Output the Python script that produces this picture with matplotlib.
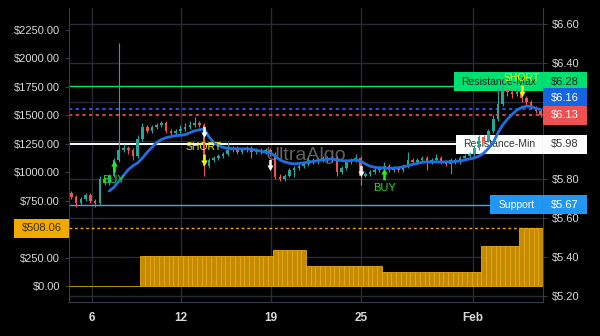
import matplotlib
matplotlib.use('Agg')
import matplotlib.pyplot as plt
from matplotlib.patches import Rectangle
from matplotlib.transforms import IdentityTransform
from matplotlib.path import Path

plt.rcParams['font.family'] = ['Liberation Sans', 'DejaVu Sans']

# ---------------- data ----------------
first_open = 5.73
closes = [5.71, 5.68, 5.70, 5.72, 5.69, 5.68, 5.80, 5.78, 5.82, 5.90,
          5.95, 5.96, 5.95, 5.92, 6.01, 6.07, 6.05, 6.07, 6.08, 6.09,
          6.05, 6.04, 6.05, 6.06, 6.07, 6.08, 6.09, 6.08, 5.87, 5.90,
          5.91, 5.92, 5.93, 5.95, 5.96, 5.94, 5.95, 5.96, 5.94, 5.95,
          5.94, 5.95, 5.93, 5.81, 5.80, 5.82, 5.85, 5.86, 5.87, 5.88,
          5.90, 5.89, 5.90, 5.91, 5.90, 5.91, 5.84, 5.86, 5.89, 5.90,
          5.91, 5.82, 5.83, 5.84, 5.85, 5.86, 5.87, 5.85, 5.86, 5.85,
          5.87, 5.90, 5.89, 5.90, 5.91, 5.89, 5.90, 5.91, 5.89, 5.88,
          5.90, 5.89, 5.91, 5.92, 5.93, 5.96, 6.02, 6.00, 6.05, 6.11,
          6.19, 6.26, 6.25, 6.24, 6.25, 6.22, 6.20, 6.17, 6.15, 6.13]
highs = [5.74, 5.72, 5.71, 5.73, 5.73, 5.70, 5.82, 5.81, 5.83, 5.91,
         6.50, 5.98, 5.97, 5.96, 6.03, 6.09, 6.08, 6.08, 6.09, 6.10,
         6.10, 6.06, 6.06, 6.08, 6.09, 6.10, 6.12, 6.10, 6.09, 5.91,
         5.92, 5.93, 5.94, 5.99, 5.97, 5.97, 5.96, 5.97, 5.97, 5.96,
         5.96, 5.96, 5.96, 5.94, 5.83, 5.83, 5.86, 5.87, 5.88, 5.89,
         5.91, 5.91, 5.91, 5.92, 5.92, 5.92, 5.92, 5.87, 5.90, 5.91,
         5.93, 5.92, 5.84, 5.85, 5.86, 5.87, 5.89, 5.88, 5.87, 5.87,
         5.88, 5.94, 5.91, 5.91, 5.92, 5.92, 5.91, 5.93, 5.92, 5.90,
         5.91, 5.91, 5.92, 5.93, 5.94, 5.97, 6.03, 6.03, 6.06, 6.13,
         6.27, 6.28, 6.27, 6.26, 6.27, 6.26, 6.23, 6.21, 6.18, 6.16]
lows = [5.70, 5.66, 5.67, 5.69, 5.68, 5.66, 5.67, 5.77, 5.77, 5.81,
        5.89, 5.94, 5.93, 5.90, 5.91, 6.00, 6.04, 6.04, 6.06, 6.07,
        6.04, 6.03, 6.03, 6.04, 6.05, 6.06, 6.07, 6.07, 5.82, 5.86,
        5.89, 5.90, 5.91, 5.92, 5.94, 5.93, 5.93, 5.94, 5.91, 5.93,
        5.93, 5.93, 5.92, 5.80, 5.79, 5.79, 5.81, 5.81, 5.85, 5.86,
        5.87, 5.88, 5.88, 5.89, 5.89, 5.89, 5.82, 5.83, 5.85, 5.88,
        5.89, 5.77, 5.81, 5.82, 5.83, 5.84, 5.85, 5.84, 5.84, 5.84,
        5.84, 5.86, 5.88, 5.88, 5.89, 5.85, 5.88, 5.89, 5.88, 5.87,
        5.83, 5.88, 5.88, 5.90, 5.91, 5.92, 5.95, 5.98, 5.99, 6.04,
        6.10, 6.18, 6.23, 6.22, 6.23, 6.20, 6.18, 6.16, 6.14, 6.12]

ma_start = 8
ma_values = [5.74, 5.76, 5.79, 5.82, 5.85, 5.87, 5.885, 5.91, 5.94, 5.965,
             5.99, 6.005, 6.015, 6.02, 6.025, 6.027, 6.03, 6.04, 6.05, 6.055,
             6.06, 6.02, 5.99, 5.975, 5.965, 5.96, 5.958, 5.957, 5.957, 5.957,
             5.955, 5.95, 5.945, 5.94, 5.935, 5.92, 5.90, 5.89, 5.883, 5.88,
             5.882, 5.885, 5.89, 5.892, 5.897, 5.90, 5.903, 5.905, 5.90, 5.897,
             5.895, 5.897, 5.90, 5.895, 5.88, 5.868, 5.862, 5.86, 5.858, 5.857,
             5.858, 5.86, 5.865, 5.87, 5.877, 5.882, 5.888, 5.89, 5.89, 5.89,
             5.89, 5.89, 5.89, 5.893, 5.895, 5.90, 5.905, 5.91, 5.92, 5.935,
             5.96, 5.99, 6.04, 6.08, 6.11, 6.135, 6.157, 6.17, 6.177, 6.175,
             6.165, 6.16]

eq_levels = [0, 264, 316, 176, 123, 352, 508.06]
eq_runs = [15, 28, 7, 16, 21, 8, 5]

date_labels = ['6', '12', '19', '25', 'Feb']
date_pos = [4.35, 23.1, 42.1, 61.1, 84.7]
right_ticks = [5.20, 5.40, 5.60, 5.80, 6.00, 6.20, 6.40, 6.60]
right_hidden = [6.00, 6.20]          # covered by value boxes in the reference
left_ticks = [0, 250, 500, 750, 1000, 1250, 1500, 1750, 2000, 2250]
left_hidden = [500]                   # covered by the equity value box

resistance_max = 6.28
resistance_min = 5.98
support = 5.67

buy_idx = [9, 66]
buy_price = [5.869, 5.828]
short_idx = [28, 95]
short_price = [5.90, 6.255]
exit_idx = [28, 42, 61]
exit_price = [6.042, 5.874, 5.843]

# ---------------- figure ----------------
BG = '#000000'
GRID = '#2a2a35'
SPINE = '#3a3a4e'
TXT = '#d9d9d9'

fig = plt.figure(figsize=(6, 3.36), dpi=100, facecolor=BG)
ax_p = fig.add_axes([69/600, 34/336, 474/600, 294/336])
ax_p.set_facecolor(BG)
ax_eq = ax_p.twinx()

n = len(closes)
xs = list(range(n))
opens = [first_open] + closes[:-1]

# ----- price axis (right) -----
ax_p.yaxis.tick_right()
ax_p.set_xlim(-0.5, n - 0.5)
ax_p.set_ylim(5.169, 6.682)
ax_p.set_yticks(right_ticks)
ax_p.set_yticklabels(['' if v in right_hidden else f'${v:.2f}' for v in right_ticks])
ax_p.tick_params(axis='y', colors=SPINE, labelcolor=TXT, labelsize=8, length=3)
ax_p.set_xticks(date_pos)
ax_p.set_xticklabels(date_labels)
ax_p.tick_params(axis='x', colors=SPINE, labelcolor=TXT, labelsize=8.5, length=0, pad=7)
for lab in ax_p.get_xticklabels():
    lab.set_fontweight('bold')
ax_p.grid(axis='both', color=GRID, lw=1, zorder=0)
ax_p.set_axisbelow(True)
ax_p.spines['top'].set_visible(False)
for s in ['left', 'bottom', 'right']:
    ax_p.spines[s].set_color(SPINE)

# ----- equity axis (left) -----
equity = []
for lvl, run in zip(eq_levels, eq_runs):
    equity += [lvl] * run
ax_eq.yaxis.tick_left()
ax_eq.bar(xs, equity, width=1.0, color='#C48A00', edgecolor='#E8AA12', linewidth=0.6, zorder=2)
ax_eq.axhline(equity[-1], color='#F0A500', lw=1, ls=(0, (2, 2)), zorder=3)
ax_eq.set_ylim(-141, 2443)
ax_eq.set_yticks(left_ticks)
ax_eq.set_yticklabels(['' if v in left_hidden else f'${v:.2f}' for v in left_ticks])
ax_eq.tick_params(axis='y', colors=SPINE, labelcolor=TXT, labelsize=8, length=3)
for s in ['top', 'right', 'left', 'bottom']:
    ax_eq.spines[s].set_visible(False)

# level lines
ax_p.axhline(resistance_max, color='#00E676', lw=1, zorder=1)
ax_p.axhline(ma_values[-1], color='#2962FF', lw=1.2, ls=(0, (2, 2)), zorder=1)
ax_p.axhline(closes[-1], color='#F05050', lw=1.2, ls=(0, (2, 2)), zorder=1)
ax_p.axhline(resistance_min, color='#FFFFFF', lw=1.4, zorder=1)
ax_p.axhline(support, color='#42A5F5', lw=1, zorder=1)

# in-plot label boxes (behind candles)
def px_y(val):
    return ax_p.transData.transform((0, val))[1]

x0 = ax_p.bbox.x0
x1 = ax_p.bbox.x1

def inner_box(left, yc, face, text, tcolor):
    r = Rectangle((left, yc - 9.5), x1 - left, 19, transform=IdentityTransform(),
                  facecolor=face, edgecolor='none', zorder=1.6)
    ax_p.add_patch(r)
    ax_p.text((left + x1) / 2, yc, text, transform=IdentityTransform(), ha='center',
              va='center', fontsize=7.5, color=tcolor, zorder=1.7)

inner_box(x1 - 89, px_y(resistance_max) + 4.5, '#00E070', 'Resistance-Max', '#222222')
inner_box(x1 - 87, px_y(resistance_min), '#FFFFFF', 'Resistance-Min', '#333333')
inner_box(x1 - 53, px_y(support), '#2196F3', 'Support', '#FFFFFF')

# candles
up_c = '#26A69A'
dn_c = '#EF5350'
colors = [up_c if c >= o else dn_c for o, c in zip(opens, closes)]
ax_p.vlines(xs, lows, highs, colors=colors, lw=0.8, zorder=3)
bottoms = [min(o, c) for o, c in zip(opens, closes)]
heights = [max(abs(c - o), 0.004) for o, c in zip(opens, closes)]
ax_p.bar(xs, heights, bottom=bottoms, width=0.55, color=colors, linewidth=0, zorder=3)

# watermark
ax_p.text(0.5, 0.5, 'UltraAlgo', transform=ax_p.transAxes, ha='center', va='center',
          fontsize=14, color='#8a8a8a', alpha=0.7, zorder=3.5)

# moving average
ma_x = list(range(ma_start, ma_start + len(ma_values)))
ax_p.plot(ma_x, ma_values, color='#1E6FE0', lw=2, zorder=4, solid_capstyle='round')

# signal arrows
up_arrow = Path([(-0.22, -1), (0.22, -1), (0.22, 0), (0.55, 0), (0, 1), (-0.55, 0), (-0.22, 0), (-0.22, -1)],
                [Path.MOVETO] + [Path.LINETO] * 6 + [Path.CLOSEPOLY])
dn_arrow = Path([(x, -y) for x, y in up_arrow.vertices], up_arrow.codes)

for i, p in zip(exit_idx, exit_price):
    ax_p.plot([i], [p], marker=dn_arrow, ms=8, color='#FFFFFF', mew=0, zorder=6, ls='none')
for i, p in zip(buy_idx, buy_price):
    ax_p.plot([i], [p], marker=up_arrow, ms=8.5, color='#22EE22', mew=0, zorder=6, ls='none')
    ax_p.annotate('BUY', (i, p), xytext=(0, -14), textcoords='offset pixels', ha='center',
                  va='center', fontsize=8, color='#22DD22', zorder=7)
for i, p in zip(short_idx, short_price):
    ax_p.plot([i], [p], marker=dn_arrow, ms=8.5, color='#F2F20A', mew=0, zorder=6, ls='none')
    ax_p.annotate('SHORT', (i, p), xytext=(0, 13), textcoords='offset pixels', ha='center',
                  va='center', fontsize=7.5, color='#F0F000', zorder=7)

# axis value boxes (outside plot)
def side_box(left, width, yc, face, text, tcolor):
    fig.add_artist(Rectangle((left, yc - 9.5), width, 19, transform=IdentityTransform(),
                             facecolor=face, edgecolor='none', zorder=5))
    fig.text(left + width / 2, yc, text, transform=IdentityTransform(), ha='center',
             va='center', fontsize=8, color=tcolor, zorder=6)

side_box(x1, 44, px_y(resistance_max) + 4.5, '#00E070', f'${resistance_max:.2f}', '#222222')
side_box(x1, 44, px_y(ma_values[-1]) + 11.5, '#1565E0', f'${ma_values[-1]:.2f}', '#FFFFFF')
side_box(x1, 44, px_y(closes[-1]), '#F05050', f'${closes[-1]:.2f}', '#FFFFFF')
side_box(x1, 44, px_y(resistance_min), '#FFFFFF', f'${resistance_min:.2f}', '#333333')
side_box(x1, 44, px_y(support), '#2196F3', f'${support:.2f}', '#FFFFFF')
eq_y = ax_eq.transData.transform((0, equity[-1]))[1]
side_box(x0 - 55, 55, eq_y, '#F2A900', f'${equity[-1]:.2f}', '#333333')

fig.savefig('out.png', dpi=100, facecolor=BG)
